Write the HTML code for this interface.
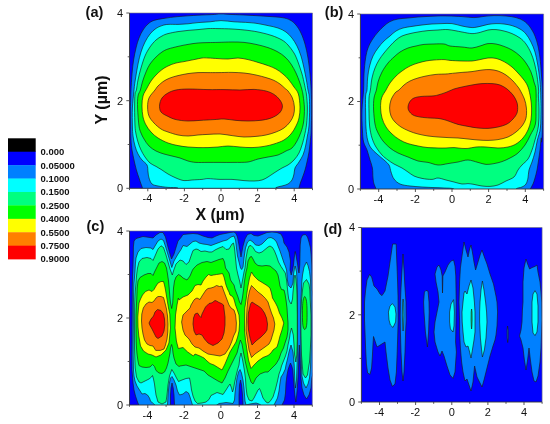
<!DOCTYPE html>
<html><head><meta charset="utf-8"><title>Figure</title>
<style>
html,body{margin:0;padding:0;background:#fff;}
body{width:550px;height:424px;overflow:hidden;}
svg{display:block;}
text{font-family:"Liberation Sans",Arial,sans-serif;fill:#111;}
.tk{font-size:11px;}
.pl{font-size:14.5px;font-weight:bold;}
.ax{font-size:16px;font-weight:bold;}
.lg{font-size:9.5px;font-weight:bold;}
</style></head><body>
<svg width="550" height="424" viewBox="0 0 550 424">
<defs>
<clipPath id="cpa"><rect x="129.5" y="13.0" width="183.0" height="175.3"/></clipPath>
<clipPath id="cpb"><rect x="360.4" y="14.0" width="183.2" height="175.0"/></clipPath>
<clipPath id="cpc"><rect x="129.5" y="231.0" width="182.8" height="174.0"/></clipPath>
<clipPath id="cpd"><rect x="361.4" y="227.5" width="180.7" height="174.5"/></clipPath>
</defs>
<rect x="129.5" y="13.0" width="183.0" height="175.3" fill="#0000ff"/>
<g clip-path="url(#cpa)" stroke="#1a1a1a" stroke-width="0.65" stroke-linejoin="round">
<path d="M131.0,90.0 C131.2,86.3 131.6,79.0 132.0,74.0 C132.4,69.0 132.9,64.3 133.6,60.0 C134.3,55.7 135.1,51.7 136.0,48.0 C136.9,44.3 137.8,41.0 139.0,38.0 C140.2,35.0 141.5,32.3 143.0,30.0 C144.5,27.7 146.2,25.6 148.0,24.0 C149.8,22.4 151.3,21.3 154.0,20.4 C156.7,19.5 160.0,19.0 164.0,18.4 C168.0,17.8 172.3,17.1 178.0,16.6 C183.7,16.1 192.3,15.5 198.0,15.2 C203.7,14.9 208.2,14.8 212.0,14.6 C215.8,14.4 217.7,13.9 221.0,13.9 C224.3,13.9 227.5,14.3 232.0,14.5 C236.5,14.7 242.0,14.9 248.0,15.2 C254.0,15.5 262.3,16.0 268.0,16.4 C273.7,16.8 278.3,17.0 282.0,17.6 C285.7,18.2 287.7,18.8 290.0,20.0 C292.3,21.2 294.2,22.8 296.0,25.0 C297.8,27.2 299.5,29.8 301.0,33.0 C302.5,36.2 303.8,39.8 305.0,44.0 C306.2,48.2 307.2,53.0 308.0,58.0 C308.8,63.0 309.5,68.7 310.0,74.0 C310.5,79.3 310.9,84.0 311.2,90.0 C311.5,96.0 311.6,103.3 311.6,110.0 C311.6,116.7 311.4,125.0 311.2,130.0 C311.0,135.0 310.8,136.3 310.4,140.0 C310.0,143.7 309.6,148.3 309.0,152.0 C308.4,155.7 307.7,159.0 307.0,162.0 C306.3,165.0 305.7,167.7 305.0,170.0 C304.3,172.3 303.8,173.8 303.0,176.0 C302.2,178.2 301.1,181.0 300.4,183.0 C299.7,185.0 299.4,186.2 299.0,188.0 C298.6,189.8 324.0,193.0 298.0,194.0 C272.0,195.0 168.9,195.0 143.0,194.0 C117.1,193.0 142.7,189.7 142.4,188.0 C142.1,186.3 141.6,185.7 141.0,184.0 C140.4,182.3 139.8,180.3 139.0,178.0 C138.2,175.7 137.2,173.0 136.4,170.0 C135.6,167.0 134.7,163.3 134.0,160.0 C133.3,156.7 132.5,153.3 132.0,150.0 C131.5,146.7 131.2,144.0 131.0,140.0 C130.8,136.0 130.7,131.0 130.6,126.0 C130.5,121.0 130.4,115.0 130.4,110.0 C130.4,105.0 130.7,99.3 130.8,96.0 C130.9,92.7 130.8,93.7 131.0,90.0Z" fill="#0080ff"/>
<path d="M134.0,90.0 C134.5,85.0 134.9,82.3 135.6,78.0 C136.3,73.7 137.1,68.3 138.0,64.0 C138.9,59.7 139.8,55.7 141.0,52.0 C142.2,48.3 143.5,45.0 145.0,42.0 C146.5,39.0 148.2,36.3 150.0,34.0 C151.8,31.7 154.0,29.8 156.0,28.4 C158.0,27.0 160.0,26.3 162.0,25.6 C164.0,24.9 165.3,24.6 168.0,24.4 C170.7,24.2 174.7,24.5 178.0,24.4 C181.3,24.3 184.7,24.1 188.0,23.8 C191.3,23.5 194.3,22.9 198.0,22.6 C201.7,22.3 206.2,22.1 210.0,21.8 C213.8,21.5 217.0,20.6 221.0,20.6 C225.0,20.6 229.3,21.5 234.0,21.8 C238.7,22.1 245.0,22.3 249.0,22.6 C253.0,22.9 254.8,23.1 258.0,23.6 C261.2,24.1 264.7,24.9 268.0,25.6 C271.3,26.3 275.0,26.9 278.0,28.0 C281.0,29.1 283.7,30.3 286.0,32.0 C288.3,33.7 290.2,35.7 292.0,38.0 C293.8,40.3 295.5,43.0 297.0,46.0 C298.5,49.0 299.8,52.3 301.0,56.0 C302.2,59.7 303.1,64.0 304.0,68.0 C304.9,72.0 305.7,76.3 306.4,80.0 C307.1,83.7 307.5,87.3 308.0,90.0 C308.5,92.7 308.9,93.0 309.2,96.0 C309.5,99.0 309.6,103.0 309.6,108.0 C309.6,113.0 309.4,121.3 309.0,126.0 C308.6,130.7 308.0,132.7 307.4,136.0 C306.8,139.3 306.3,142.8 305.6,146.0 C304.9,149.2 304.1,152.3 303.0,155.0 C301.9,157.7 300.3,159.8 299.0,162.0 C297.7,164.2 295.8,166.0 295.0,168.0 C294.2,170.0 294.5,172.0 294.0,174.0 C293.5,176.0 293.0,178.3 292.0,180.0 C291.0,181.7 289.7,183.0 288.0,184.0 C286.3,185.0 284.0,185.4 282.0,186.0 C280.0,186.6 277.7,186.6 276.0,187.6 C274.3,188.6 288.0,191.3 272.0,192.0 C256.0,192.7 195.7,192.7 180.0,192.0 C164.3,191.3 180.0,188.8 178.0,188.0 C176.0,187.2 171.3,187.7 168.0,187.4 C164.7,187.1 160.7,186.6 158.0,186.0 C155.3,185.4 153.5,185.3 152.0,184.0 C150.5,182.7 149.7,180.0 149.0,178.0 C148.3,176.0 148.3,174.2 148.0,172.0 C147.7,169.8 148.0,167.0 147.0,165.0 C146.0,163.0 143.5,161.8 142.0,160.0 C140.5,158.2 139.2,156.3 138.0,154.0 C136.8,151.7 135.8,149.0 135.0,146.0 C134.2,143.0 133.4,139.3 133.0,136.0 C132.6,132.7 132.5,130.7 132.4,126.0 C132.3,121.3 132.1,114.0 132.4,108.0 C132.7,102.0 133.5,95.0 134.0,90.0Z" fill="#00ffff"/>
<path d="M136.4,90.0 C136.9,87.7 137.2,83.7 138.0,80.0 C138.8,76.3 139.8,72.0 141.0,68.0 C142.2,64.0 143.5,59.5 145.0,56.0 C146.5,52.5 148.2,49.7 150.0,47.0 C151.8,44.3 154.0,41.8 156.0,40.0 C158.0,38.2 160.0,37.1 162.0,36.0 C164.0,34.9 165.3,34.3 168.0,33.6 C170.7,32.9 174.7,32.1 178.0,31.6 C181.3,31.1 184.7,30.7 188.0,30.4 C191.3,30.1 194.7,29.9 198.0,29.6 C201.3,29.3 204.7,28.8 208.0,28.6 C211.3,28.4 214.0,28.5 218.0,28.6 C222.0,28.7 227.0,28.7 232.0,29.0 C237.0,29.3 243.3,29.8 248.0,30.4 C252.7,31.0 256.0,31.5 260.0,32.4 C264.0,33.3 268.3,34.3 272.0,35.6 C275.7,36.9 279.3,38.4 282.0,40.0 C284.7,41.6 286.0,42.8 288.0,45.0 C290.0,47.2 292.3,50.2 294.0,53.0 C295.7,55.8 296.7,58.5 298.0,62.0 C299.3,65.5 300.9,70.3 302.0,74.0 C303.1,77.7 303.8,81.3 304.4,84.0 C305.0,86.7 305.3,88.3 305.6,90.0 C305.9,91.7 306.1,91.0 306.4,94.0 C306.7,97.0 307.4,103.0 307.4,108.0 C307.4,113.0 307.1,119.3 306.6,124.0 C306.1,128.7 305.2,132.5 304.4,136.0 C303.6,139.5 302.9,142.2 302.0,145.0 C301.1,147.8 300.3,150.5 299.0,153.0 C297.7,155.5 295.8,158.0 294.0,160.0 C292.2,162.0 290.0,163.7 288.0,165.0 C286.0,166.3 284.3,166.7 282.0,168.0 C279.7,169.3 276.3,171.5 274.0,173.0 C271.7,174.5 270.0,175.8 268.0,177.0 C266.0,178.2 264.3,179.3 262.0,180.0 C259.7,180.7 257.0,180.9 254.0,181.0 C251.0,181.1 247.7,180.9 244.0,180.6 C240.3,180.3 236.0,179.6 232.0,179.4 C228.0,179.2 224.0,179.5 220.0,179.4 C216.0,179.3 211.0,178.6 208.0,178.6 C205.0,178.6 204.7,179.2 202.0,179.4 C199.3,179.6 195.0,179.8 192.0,180.0 C189.0,180.2 186.7,180.9 184.0,180.6 C181.3,180.3 178.7,179.1 176.0,178.0 C173.3,176.9 170.3,175.3 168.0,174.0 C165.7,172.7 164.0,171.3 162.0,170.0 C160.0,168.7 158.0,167.6 156.0,166.4 C154.0,165.2 151.8,164.6 150.0,163.0 C148.2,161.4 146.5,159.2 145.0,157.0 C143.5,154.8 142.2,152.5 141.0,150.0 C139.8,147.5 138.8,144.7 138.0,142.0 C137.2,139.3 136.5,136.7 136.0,134.0 C135.5,131.3 135.2,130.3 135.0,126.0 C134.8,121.7 134.6,113.3 134.6,108.0 C134.6,102.7 134.7,97.0 135.0,94.0 C135.3,91.0 135.9,92.3 136.4,90.0Z" fill="#00ff80"/>
<path d="M140.4,90.0 C141.1,87.7 141.5,85.0 142.4,82.0 C143.3,79.0 144.7,75.0 146.0,72.0 C147.3,69.0 148.3,66.5 150.0,64.0 C151.7,61.5 154.0,59.0 156.0,57.0 C158.0,55.0 160.0,53.3 162.0,52.0 C164.0,50.7 165.3,49.9 168.0,49.0 C170.7,48.1 174.7,47.2 178.0,46.4 C181.3,45.6 184.7,45.0 188.0,44.4 C191.3,43.8 194.7,43.3 198.0,43.0 C201.3,42.7 204.7,42.7 208.0,42.6 C211.3,42.5 214.0,42.5 218.0,42.4 C222.0,42.3 227.7,42.0 232.0,42.0 C236.3,42.0 240.0,42.0 244.0,42.4 C248.0,42.8 252.0,43.5 256.0,44.4 C260.0,45.3 264.3,46.3 268.0,47.6 C271.7,48.9 275.2,50.4 278.0,52.0 C280.8,53.6 282.8,55.0 285.0,57.0 C287.2,59.0 289.2,61.3 291.0,64.0 C292.8,66.7 294.6,70.0 296.0,73.0 C297.4,76.0 298.6,79.2 299.6,82.0 C300.6,84.8 301.4,87.7 302.0,90.0 C302.6,92.3 302.8,93.0 303.2,96.0 C303.6,99.0 304.3,103.7 304.4,108.0 C304.5,112.3 304.2,118.0 303.6,122.0 C303.0,126.0 302.1,128.8 301.0,132.0 C299.9,135.2 298.5,138.3 297.0,141.0 C295.5,143.7 293.8,146.3 292.0,148.0 C290.2,149.7 288.3,149.8 286.0,151.0 C283.7,152.2 281.0,154.0 278.0,155.0 C275.0,156.0 271.3,156.3 268.0,157.0 C264.7,157.7 261.3,158.2 258.0,159.0 C254.7,159.8 252.0,161.4 248.0,162.0 C244.0,162.6 238.7,162.3 234.0,162.4 C229.3,162.5 224.3,162.4 220.0,162.4 C215.7,162.4 212.0,162.4 208.0,162.4 C204.0,162.4 199.3,162.6 196.0,162.4 C192.7,162.2 190.7,161.7 188.0,161.0 C185.3,160.3 182.7,158.8 180.0,158.0 C177.3,157.2 174.7,156.7 172.0,156.0 C169.3,155.3 166.7,154.8 164.0,154.0 C161.3,153.2 158.5,152.3 156.0,151.0 C153.5,149.7 151.0,148.0 149.0,146.0 C147.0,144.0 145.3,141.2 144.0,139.0 C142.7,136.8 141.8,135.2 141.0,133.0 C140.2,130.8 139.6,130.2 139.0,126.0 C138.4,121.8 137.8,113.0 137.6,108.0 C137.4,103.0 137.5,99.0 138.0,96.0 C138.5,93.0 139.7,92.3 140.4,90.0Z" fill="#00ff00"/>
<path d="M147.0,88.0 C148.3,85.5 149.5,83.2 151.0,81.0 C152.5,78.8 154.2,76.9 156.0,75.0 C157.8,73.1 160.0,71.1 162.0,69.6 C164.0,68.1 165.7,67.1 168.0,66.0 C170.3,64.9 173.3,63.7 176.0,63.0 C178.7,62.3 181.0,62.2 184.0,61.6 C187.0,61.0 191.0,60.2 194.0,59.6 C197.0,59.0 199.7,58.3 202.0,58.0 C204.3,57.7 205.3,57.9 208.0,58.0 C210.7,58.1 214.7,58.4 218.0,58.6 C221.3,58.8 224.7,59.1 228.0,59.0 C231.3,58.9 234.7,57.9 238.0,58.0 C241.3,58.1 244.7,58.9 248.0,59.6 C251.3,60.3 254.7,61.4 258.0,62.4 C261.3,63.4 265.0,64.5 268.0,65.6 C271.0,66.7 273.5,67.6 276.0,69.0 C278.5,70.4 280.8,72.2 283.0,74.0 C285.2,75.8 287.2,77.8 289.0,80.0 C290.8,82.2 292.4,84.7 294.0,87.0 C295.6,89.3 297.4,90.7 298.4,94.0 C299.4,97.3 299.9,103.0 300.0,107.0 C300.1,111.0 299.7,114.8 299.0,118.0 C298.3,121.2 297.3,123.3 296.0,126.0 C294.7,128.7 293.0,131.7 291.0,134.0 C289.0,136.3 286.8,138.3 284.0,140.0 C281.2,141.7 277.3,142.9 274.0,144.0 C270.7,145.1 267.7,145.8 264.0,146.4 C260.3,147.0 256.0,147.5 252.0,147.6 C248.0,147.7 244.0,147.3 240.0,147.0 C236.0,146.7 231.7,146.0 228.0,146.0 C224.3,146.0 221.3,146.7 218.0,147.0 C214.7,147.3 211.3,147.5 208.0,147.6 C204.7,147.7 201.3,147.7 198.0,147.6 C194.7,147.5 191.3,147.3 188.0,147.0 C184.7,146.7 181.3,146.3 178.0,145.6 C174.7,144.9 171.3,144.3 168.0,143.0 C164.7,141.7 160.8,139.8 158.0,138.0 C155.2,136.2 153.0,134.2 151.0,132.0 C149.0,129.8 147.3,127.5 146.0,125.0 C144.7,122.5 143.7,120.2 143.0,117.0 C142.3,113.8 142.0,109.5 142.0,106.0 C142.0,102.5 142.2,99.0 143.0,96.0 C143.8,93.0 145.7,90.5 147.0,88.0Z" fill="#ffff00"/>
<path d="M155.0,90.0 C156.5,88.0 156.5,87.5 158.0,86.0 C159.5,84.5 162.0,82.3 164.0,81.0 C166.0,79.7 167.7,78.9 170.0,78.0 C172.3,77.1 175.0,76.3 178.0,75.6 C181.0,74.9 184.7,74.1 188.0,73.6 C191.3,73.1 194.7,72.8 198.0,72.6 C201.3,72.4 204.7,72.6 208.0,72.6 C211.3,72.6 214.0,72.6 218.0,72.6 C222.0,72.6 227.7,72.3 232.0,72.4 C236.3,72.5 240.0,72.6 244.0,73.0 C248.0,73.4 252.3,74.2 256.0,75.0 C259.7,75.8 263.0,76.7 266.0,77.6 C269.0,78.5 271.7,79.3 274.0,80.4 C276.3,81.5 278.2,82.7 280.0,84.0 C281.8,85.3 283.7,87.2 285.0,88.4 C286.3,89.6 286.8,89.4 288.0,91.0 C289.2,92.6 291.3,95.3 292.4,98.0 C293.5,100.7 294.2,104.2 294.4,107.0 C294.6,109.8 294.3,112.5 293.6,115.0 C292.9,117.5 291.6,119.8 290.0,122.0 C288.4,124.2 286.3,126.3 284.0,128.0 C281.7,129.7 279.0,130.8 276.0,132.0 C273.0,133.2 269.3,134.3 266.0,135.0 C262.7,135.7 259.7,136.1 256.0,136.4 C252.3,136.7 248.0,137.1 244.0,137.0 C240.0,136.9 236.0,136.1 232.0,135.6 C228.0,135.1 224.0,134.2 220.0,134.0 C216.0,133.8 211.7,134.2 208.0,134.4 C204.3,134.6 201.3,134.7 198.0,135.0 C194.7,135.3 191.3,136.0 188.0,136.0 C184.7,136.0 181.3,135.7 178.0,135.0 C174.7,134.3 170.8,133.0 168.0,132.0 C165.2,131.0 163.3,130.5 161.0,129.0 C158.7,127.5 156.0,125.2 154.0,123.0 C152.0,120.8 150.1,118.7 149.0,116.0 C147.9,113.3 147.6,110.0 147.6,107.0 C147.6,104.0 147.8,100.8 149.0,98.0 C150.2,95.2 153.5,92.0 155.0,90.0Z" fill="#ff8000"/>
<path d="M159.6,105.0 C159.8,102.7 160.6,100.0 162.0,98.0 C163.4,96.0 165.7,94.3 168.0,93.0 C170.3,91.7 172.7,90.7 176.0,90.0 C179.3,89.3 182.7,89.1 188.0,89.0 C193.3,88.9 202.0,89.5 208.0,89.6 C214.0,89.7 218.7,89.5 224.0,89.6 C229.3,89.7 235.0,90.0 240.0,90.0 C245.0,90.0 249.7,89.2 254.0,89.4 C258.3,89.6 262.7,90.2 266.0,91.0 C269.3,91.8 271.7,93.0 274.0,94.4 C276.3,95.8 278.2,97.7 279.6,99.6 C281.0,101.5 282.2,103.7 282.4,105.6 C282.6,107.5 281.9,109.4 281.0,111.0 C280.1,112.6 278.8,113.8 277.0,115.0 C275.2,116.2 272.8,117.5 270.0,118.4 C267.2,119.3 263.7,120.0 260.0,120.4 C256.3,120.8 252.0,121.0 248.0,121.0 C244.0,121.0 240.0,120.7 236.0,120.4 C232.0,120.1 227.7,119.1 224.0,119.0 C220.3,118.9 218.0,119.4 214.0,119.6 C210.0,119.8 204.3,120.2 200.0,120.4 C195.7,120.6 192.0,121.1 188.0,121.0 C184.0,120.9 179.3,120.4 176.0,119.6 C172.7,118.8 170.5,117.7 168.0,116.4 C165.5,115.1 162.4,113.9 161.0,112.0 C159.6,110.1 159.4,107.3 159.6,105.0Z" fill="#ff0000"/>
</g>
<path d="M129.5,13.0H312.5V188.3" fill="none" stroke="#777" stroke-width="0.6"/>
<path d="M129.5,13.0V188.3H312.5" fill="none" stroke="#333" stroke-width="0.9"/>
<path d="M129.5,188.3v1.8M147.8,188.3v3.0M166.1,188.3v1.8M184.4,188.3v3.0M202.7,188.3v1.8M221.0,188.3v3.0M239.3,188.3v1.8M257.6,188.3v3.0M275.9,188.3v1.8M294.2,188.3v3.0M312.5,188.3v1.8M129.5,188.3h-3.2M129.5,144.5h-1.8M129.5,100.7h-3.2M129.5,56.8h-1.8M129.5,13.0h-3.2" stroke="#444" stroke-width="0.9" fill="none"/>
<text x="147.5" y="202.4" class="tk" text-anchor="middle">-4</text>
<text x="184.1" y="202.4" class="tk" text-anchor="middle">-2</text>
<text x="221.0" y="202.4" class="tk" text-anchor="middle">0</text>
<text x="257.6" y="202.4" class="tk" text-anchor="middle">2</text>
<text x="294.2" y="202.4" class="tk" text-anchor="middle">4</text>
<text x="123.2" y="192.1" class="tk" text-anchor="end">0</text>
<text x="123.2" y="104.5" class="tk" text-anchor="end">2</text>
<text x="123.2" y="16.8" class="tk" text-anchor="end">4</text>
<rect x="360.4" y="14.0" width="183.2" height="175.0" fill="#0000ff"/>
<g clip-path="url(#cpb)" stroke="#1a1a1a" stroke-width="0.65" stroke-linejoin="round">
<path d="M363.6,90.0 C363.9,84.0 363.7,79.3 364.0,74.0 C364.3,68.7 364.9,62.3 365.6,58.0 C366.3,53.7 366.9,51.0 368.0,48.0 C369.1,45.0 370.3,42.7 372.0,40.0 C373.7,37.3 376.0,34.3 378.0,32.0 C380.0,29.7 382.0,27.7 384.0,26.0 C386.0,24.3 387.7,22.8 390.0,21.6 C392.3,20.4 395.0,19.6 398.0,19.0 C401.0,18.4 404.7,18.3 408.0,18.0 C411.3,17.7 414.7,17.3 418.0,17.0 C421.3,16.7 424.7,16.6 428.0,16.4 C431.3,16.2 434.7,16.1 438.0,16.0 C441.3,15.9 444.0,15.9 448.0,16.0 C452.0,16.1 457.7,16.3 462.0,16.6 C466.3,16.9 470.3,17.6 474.0,17.6 C477.7,17.6 480.7,16.7 484.0,16.4 C487.3,16.1 490.3,15.7 494.0,15.6 C497.7,15.5 502.3,15.7 506.0,16.0 C509.7,16.3 513.0,16.8 516.0,17.6 C519.0,18.4 521.7,19.4 524.0,21.0 C526.3,22.6 528.2,24.5 530.0,27.0 C531.8,29.5 533.7,32.8 535.0,36.0 C536.3,39.2 537.2,42.3 538.0,46.0 C538.8,49.7 539.4,53.3 540.0,58.0 C540.6,62.7 541.0,68.7 541.4,74.0 C541.8,79.3 542.2,84.0 542.4,90.0 C542.6,96.0 542.6,103.3 542.6,110.0 C542.6,116.7 542.6,124.7 542.4,130.0 C542.2,135.3 541.8,140.7 541.6,142.0 C541.4,143.3 541.5,136.7 541.2,138.0 C540.9,139.3 540.4,146.3 540.0,150.0 C539.6,153.7 539.1,156.7 538.6,160.0 C538.1,163.3 537.6,167.0 537.0,170.0 C536.4,173.0 535.7,175.7 535.0,178.0 C534.3,180.3 533.8,182.2 533.0,184.0 C532.2,185.8 531.1,187.2 530.4,189.0 C529.7,190.8 554.7,194.0 529.0,195.0 C503.3,196.0 401.9,196.0 376.4,195.0 C350.9,194.0 376.4,190.8 376.0,189.0 C375.6,187.2 374.5,185.8 374.0,184.0 C373.5,182.2 373.3,180.7 373.0,178.0 C372.7,175.3 372.9,171.0 372.4,168.0 C371.9,165.0 370.9,163.0 370.0,160.0 C369.1,157.0 368.1,153.0 367.0,150.0 C365.9,147.0 364.4,145.3 363.6,142.0 C362.8,138.7 362.7,135.3 362.4,130.0 C362.1,124.7 361.8,116.7 362.0,110.0 C362.2,103.3 363.3,96.0 363.6,90.0Z" fill="#0080ff"/>
<path d="M367.0,90.0 C367.3,87.0 367.2,82.0 367.6,78.0 C368.0,74.0 368.7,69.7 369.6,66.0 C370.5,62.3 371.6,59.0 373.0,56.0 C374.4,53.0 376.2,50.5 378.0,48.0 C379.8,45.5 382.0,43.0 384.0,41.0 C386.0,39.0 388.0,37.7 390.0,36.0 C392.0,34.3 393.8,32.3 396.0,31.0 C398.2,29.7 400.3,28.8 403.0,28.0 C405.7,27.2 408.8,26.9 412.0,26.4 C415.2,25.9 418.7,25.4 422.0,25.0 C425.3,24.6 428.7,24.2 432.0,24.0 C435.3,23.8 438.7,23.7 442.0,23.6 C445.3,23.5 448.7,23.2 452.0,23.6 C455.3,24.0 458.7,25.3 462.0,26.0 C465.3,26.7 469.0,27.5 472.0,27.6 C475.0,27.7 477.3,26.9 480.0,26.4 C482.7,25.9 485.3,24.9 488.0,24.4 C490.7,23.9 493.3,23.7 496.0,23.6 C498.7,23.5 501.3,23.7 504.0,24.0 C506.7,24.3 509.3,24.8 512.0,25.6 C514.7,26.4 517.7,27.6 520.0,29.0 C522.3,30.4 524.2,31.8 526.0,34.0 C527.8,36.2 529.5,39.0 531.0,42.0 C532.5,45.0 533.9,48.3 535.0,52.0 C536.1,55.7 536.8,59.7 537.6,64.0 C538.4,68.3 539.1,73.7 539.6,78.0 C540.1,82.3 540.4,86.7 540.6,90.0 C540.8,93.3 540.7,94.7 540.8,98.0 C540.9,101.3 541.1,105.0 541.0,110.0 C540.9,115.0 541.0,123.0 540.4,128.0 C539.8,133.0 538.3,136.0 537.4,140.0 C536.5,144.0 535.9,148.3 535.0,152.0 C534.1,155.7 533.0,159.0 532.0,162.0 C531.0,165.0 529.7,167.3 529.0,170.0 C528.3,172.7 528.5,175.7 528.0,178.0 C527.5,180.3 527.0,182.5 526.0,184.0 C525.0,185.5 523.7,186.2 522.0,187.0 C520.3,187.8 517.3,187.8 516.0,189.0 C514.7,190.2 524.0,193.2 514.0,194.0 C504.0,194.8 466.0,194.8 456.0,194.0 C446.0,193.2 456.0,190.0 454.0,189.0 C452.0,188.0 447.3,188.2 444.0,188.0 C440.7,187.8 437.7,187.8 434.0,187.6 C430.3,187.4 426.0,187.3 422.0,187.0 C418.0,186.7 413.7,186.5 410.0,186.0 C406.3,185.5 402.7,185.2 400.0,184.0 C397.3,182.8 395.5,181.0 394.0,179.0 C392.5,177.0 391.8,174.3 391.0,172.0 C390.2,169.7 390.2,167.0 389.0,165.0 C387.8,163.0 386.0,161.8 384.0,160.0 C382.0,158.2 379.2,156.0 377.0,154.0 C374.8,152.0 372.6,150.3 371.0,148.0 C369.4,145.7 368.4,143.3 367.6,140.0 C366.8,136.7 366.3,132.7 366.0,128.0 C365.7,123.3 365.7,117.3 365.6,112.0 C365.5,106.7 365.4,99.7 365.6,96.0 C365.8,92.3 366.7,93.0 367.0,90.0Z" fill="#00ffff"/>
<path d="M370.4,90.0 C370.9,86.7 371.2,81.7 372.0,78.0 C372.8,74.3 373.8,71.0 375.0,68.0 C376.2,65.0 377.5,62.5 379.0,60.0 C380.5,57.5 382.2,55.3 384.0,53.0 C385.8,50.7 388.0,48.2 390.0,46.0 C392.0,43.8 394.0,41.7 396.0,40.0 C398.0,38.3 399.7,37.1 402.0,36.0 C404.3,34.9 407.3,34.3 410.0,33.6 C412.7,32.9 415.0,32.5 418.0,32.0 C421.0,31.5 424.7,30.9 428.0,30.6 C431.3,30.3 434.7,30.2 438.0,30.0 C441.3,29.8 444.0,29.3 448.0,29.6 C452.0,29.9 458.0,31.3 462.0,32.0 C466.0,32.7 469.0,33.5 472.0,33.6 C475.0,33.7 477.3,33.0 480.0,32.4 C482.7,31.8 485.3,30.5 488.0,30.0 C490.7,29.5 493.3,29.4 496.0,29.6 C498.7,29.8 501.3,30.3 504.0,31.0 C506.7,31.7 509.3,32.4 512.0,33.6 C514.7,34.8 517.7,36.3 520.0,38.0 C522.3,39.7 524.2,41.5 526.0,44.0 C527.8,46.5 529.6,49.8 531.0,53.0 C532.4,56.2 533.4,59.2 534.4,63.0 C535.4,66.8 536.3,71.5 537.0,76.0 C537.7,80.5 538.4,86.7 538.6,90.0 C538.8,93.3 538.3,92.7 538.4,96.0 C538.5,99.3 539.0,105.0 539.0,110.0 C539.0,115.0 539.1,121.0 538.4,126.0 C537.7,131.0 536.1,136.0 535.0,140.0 C533.9,144.0 533.2,146.8 532.0,150.0 C530.8,153.2 529.7,156.5 528.0,159.0 C526.3,161.5 523.7,163.2 522.0,165.0 C520.3,166.8 519.3,168.0 518.0,170.0 C516.7,172.0 516.0,175.2 514.0,177.0 C512.0,178.8 508.7,179.7 506.0,181.0 C503.3,182.3 500.7,184.1 498.0,185.0 C495.3,185.9 492.7,186.2 490.0,186.4 C487.3,186.6 484.7,186.3 482.0,186.0 C479.3,185.7 476.3,184.8 474.0,184.4 C471.7,184.0 470.0,183.7 468.0,183.6 C466.0,183.5 464.3,184.3 462.0,184.0 C459.7,183.7 456.7,182.7 454.0,182.0 C451.3,181.3 448.7,180.7 446.0,180.0 C443.3,179.3 440.3,178.1 438.0,178.0 C435.7,177.9 434.7,179.3 432.0,179.4 C429.3,179.5 425.0,179.0 422.0,178.4 C419.0,177.8 416.3,177.1 414.0,176.0 C411.7,174.9 410.0,173.3 408.0,172.0 C406.0,170.7 404.3,169.3 402.0,168.0 C399.7,166.7 396.3,165.3 394.0,164.0 C391.7,162.7 390.0,161.5 388.0,160.0 C386.0,158.5 384.0,157.2 382.0,155.0 C380.0,152.8 377.7,149.8 376.0,147.0 C374.3,144.2 373.1,141.5 372.0,138.0 C370.9,134.5 370.1,130.3 369.6,126.0 C369.1,121.7 369.1,116.7 369.0,112.0 C368.9,107.3 368.8,101.7 369.0,98.0 C369.2,94.3 369.9,93.3 370.4,90.0Z" fill="#00ff80"/>
<path d="M376.4,90.0 C377.1,87.3 377.1,85.0 378.0,82.0 C378.9,79.0 380.3,75.2 382.0,72.0 C383.7,68.8 386.0,65.5 388.0,63.0 C390.0,60.5 392.0,58.8 394.0,57.0 C396.0,55.2 397.7,53.5 400.0,52.0 C402.3,50.5 405.3,49.0 408.0,48.0 C410.7,47.0 413.3,46.6 416.0,46.0 C418.7,45.4 421.0,44.7 424.0,44.4 C427.0,44.1 430.7,44.1 434.0,44.0 C437.3,43.9 441.3,43.7 444.0,44.0 C446.7,44.3 447.0,45.5 450.0,46.0 C453.0,46.5 458.3,46.7 462.0,47.0 C465.7,47.3 469.0,48.2 472.0,48.0 C475.0,47.8 477.3,46.7 480.0,46.0 C482.7,45.3 485.3,43.9 488.0,43.6 C490.7,43.3 493.3,43.5 496.0,44.0 C498.7,44.5 501.3,45.4 504.0,46.4 C506.7,47.4 509.3,48.4 512.0,50.0 C514.7,51.6 517.7,53.8 520.0,56.0 C522.3,58.2 524.2,60.3 526.0,63.0 C527.8,65.7 529.7,68.8 531.0,72.0 C532.3,75.2 533.2,79.0 534.0,82.0 C534.8,85.0 535.7,85.7 536.0,90.0 C536.3,94.3 536.1,102.3 536.0,108.0 C535.9,113.7 536.3,119.5 535.4,124.0 C534.5,128.5 532.1,131.5 530.4,135.0 C528.7,138.5 527.1,142.0 525.0,145.0 C522.9,148.0 520.5,150.8 518.0,153.0 C515.5,155.2 512.7,156.6 510.0,158.0 C507.3,159.4 504.7,160.7 502.0,161.6 C499.3,162.5 496.7,163.1 494.0,163.6 C491.3,164.1 488.7,164.6 486.0,164.4 C483.3,164.2 481.0,163.1 478.0,162.4 C475.0,161.7 471.3,160.1 468.0,160.0 C464.7,159.9 461.3,161.4 458.0,162.0 C454.7,162.6 451.3,163.1 448.0,163.6 C444.7,164.1 441.3,165.2 438.0,165.0 C434.7,164.8 431.3,163.1 428.0,162.4 C424.7,161.7 421.3,161.9 418.0,161.0 C414.7,160.1 411.3,158.3 408.0,157.0 C404.7,155.7 401.0,154.5 398.0,153.0 C395.0,151.5 392.5,150.0 390.0,148.0 C387.5,146.0 385.1,143.7 383.0,141.0 C380.9,138.3 378.9,134.8 377.6,132.0 C376.3,129.2 375.7,127.7 375.0,124.0 C374.3,120.3 373.8,114.3 373.6,110.0 C373.4,105.7 373.5,101.3 374.0,98.0 C374.5,94.7 375.7,92.7 376.4,90.0Z" fill="#00ff00"/>
<path d="M386.0,90.0 C387.4,87.5 388.3,85.3 390.0,83.0 C391.7,80.7 394.0,78.0 396.0,76.0 C398.0,74.0 399.7,72.7 402.0,71.0 C404.3,69.3 407.3,67.3 410.0,66.0 C412.7,64.7 415.3,63.8 418.0,63.0 C420.7,62.2 423.3,61.5 426.0,61.0 C428.7,60.5 431.0,60.2 434.0,60.0 C437.0,59.8 441.3,59.5 444.0,59.6 C446.7,59.7 447.0,60.2 450.0,60.4 C453.0,60.6 458.3,60.9 462.0,61.0 C465.7,61.1 469.0,61.2 472.0,61.0 C475.0,60.8 477.3,60.1 480.0,59.6 C482.7,59.1 485.3,58.2 488.0,58.0 C490.7,57.8 493.3,57.8 496.0,58.4 C498.7,59.0 501.3,60.2 504.0,61.6 C506.7,63.0 509.7,65.1 512.0,67.0 C514.3,68.9 516.0,70.8 518.0,73.0 C520.0,75.2 522.3,77.7 524.0,80.0 C525.7,82.3 526.9,84.0 528.0,87.0 C529.1,90.0 530.0,94.5 530.6,98.0 C531.2,101.5 531.5,104.3 531.6,108.0 C531.7,111.7 531.6,116.3 531.0,120.0 C530.4,123.7 529.3,127.0 528.0,130.0 C526.7,133.0 525.0,135.7 523.0,138.0 C521.0,140.3 518.5,142.5 516.0,144.0 C513.5,145.5 511.0,146.3 508.0,147.0 C505.0,147.7 501.7,148.0 498.0,148.0 C494.3,148.0 489.7,147.2 486.0,147.0 C482.3,146.8 479.0,146.8 476.0,147.0 C473.0,147.2 470.3,148.2 468.0,148.4 C465.7,148.6 464.3,148.5 462.0,148.4 C459.7,148.3 456.7,147.7 454.0,147.6 C451.3,147.5 448.7,147.9 446.0,148.0 C443.3,148.1 441.0,148.1 438.0,148.0 C435.0,147.9 431.3,147.9 428.0,147.6 C424.7,147.3 421.3,146.7 418.0,146.0 C414.7,145.3 411.0,144.6 408.0,143.6 C405.0,142.6 402.7,141.6 400.0,140.0 C397.3,138.4 394.3,136.2 392.0,134.0 C389.7,131.8 387.7,129.7 386.0,127.0 C384.3,124.3 382.9,121.2 382.0,118.0 C381.1,114.8 380.7,111.3 380.6,108.0 C380.5,104.7 380.7,101.0 381.6,98.0 C382.5,95.0 384.6,92.5 386.0,90.0Z" fill="#ffff00"/>
<path d="M399.0,90.0 C400.5,88.7 402.2,86.5 404.0,85.0 C405.8,83.5 407.7,82.2 410.0,81.0 C412.3,79.8 415.3,78.8 418.0,78.0 C420.7,77.2 423.0,76.6 426.0,76.0 C429.0,75.4 432.7,74.7 436.0,74.4 C439.3,74.1 443.7,74.1 446.0,74.0 C448.3,73.9 447.3,73.9 450.0,73.6 C452.7,73.3 458.3,72.7 462.0,72.4 C465.7,72.1 468.7,72.0 472.0,71.6 C475.3,71.2 479.0,70.3 482.0,70.0 C485.0,69.7 487.3,69.4 490.0,69.6 C492.7,69.8 495.3,70.1 498.0,71.0 C500.7,71.9 503.5,73.3 506.0,75.0 C508.5,76.7 511.0,79.0 513.0,81.0 C515.0,83.0 516.8,85.5 518.0,87.0 C519.2,88.5 518.9,88.0 520.0,90.0 C521.1,92.0 523.3,96.0 524.4,99.0 C525.5,102.0 526.1,104.8 526.4,108.0 C526.7,111.2 526.7,115.0 526.0,118.0 C525.3,121.0 523.7,123.7 522.0,126.0 C520.3,128.3 518.3,130.2 516.0,132.0 C513.7,133.8 511.0,135.7 508.0,137.0 C505.0,138.3 501.3,139.0 498.0,139.6 C494.7,140.2 491.3,140.3 488.0,140.4 C484.7,140.5 481.3,140.2 478.0,140.0 C474.7,139.8 471.3,139.3 468.0,139.0 C464.7,138.7 461.3,138.2 458.0,138.0 C454.7,137.8 451.3,137.8 448.0,137.6 C444.7,137.4 441.3,137.3 438.0,137.0 C434.7,136.7 431.3,136.5 428.0,136.0 C424.7,135.5 421.2,134.8 418.0,134.0 C414.8,133.2 411.8,132.2 409.0,131.0 C406.2,129.8 403.3,128.5 401.0,127.0 C398.7,125.5 396.7,123.8 395.0,122.0 C393.3,120.2 391.9,118.3 391.0,116.0 C390.1,113.7 389.6,110.7 389.6,108.0 C389.6,105.3 390.1,102.5 391.0,100.0 C391.9,97.5 393.7,94.7 395.0,93.0 C396.3,91.3 397.5,91.3 399.0,90.0Z" fill="#ff8000"/>
<path d="M408.0,107.0 C408.1,105.5 408.6,103.5 409.6,102.0 C410.6,100.5 411.9,98.9 414.0,98.0 C416.1,97.1 419.0,96.7 422.0,96.4 C425.0,96.1 429.3,96.2 432.0,96.0 C434.7,95.8 435.7,95.6 438.0,95.0 C440.3,94.4 443.3,93.4 446.0,92.4 C448.7,91.4 451.3,89.9 454.0,89.0 C456.7,88.1 459.0,87.7 462.0,87.0 C465.0,86.3 468.7,85.6 472.0,85.0 C475.3,84.4 478.7,83.8 482.0,83.6 C485.3,83.4 489.0,83.4 492.0,83.6 C495.0,83.8 497.5,84.1 500.0,85.0 C502.5,85.9 504.8,87.3 507.0,89.0 C509.2,90.7 511.4,93.0 513.0,95.0 C514.6,97.0 515.6,99.2 516.4,101.0 C517.2,102.8 517.5,104.0 517.6,106.0 C517.7,108.0 517.8,110.8 517.0,113.0 C516.2,115.2 514.7,117.2 513.0,119.0 C511.3,120.8 509.5,122.7 507.0,124.0 C504.5,125.3 501.2,126.3 498.0,127.0 C494.8,127.7 491.3,128.2 488.0,128.4 C484.7,128.6 481.3,128.3 478.0,128.0 C474.7,127.7 471.3,127.0 468.0,126.4 C464.7,125.8 461.0,125.2 458.0,124.4 C455.0,123.6 452.3,122.4 450.0,121.6 C447.7,120.8 446.0,120.1 444.0,119.6 C442.0,119.1 440.3,118.7 438.0,118.4 C435.7,118.1 433.0,118.2 430.0,118.0 C427.0,117.8 422.8,117.5 420.0,117.0 C417.2,116.5 414.8,116.0 413.0,115.0 C411.2,114.0 409.8,112.3 409.0,111.0 C408.2,109.7 407.9,108.5 408.0,107.0Z" fill="#ff0000"/>
</g>
<path d="M360.4,14.0H543.6V189.0" fill="none" stroke="#777" stroke-width="0.6"/>
<path d="M360.4,14.0V189.0H543.6" fill="none" stroke="#333" stroke-width="0.9"/>
<path d="M360.4,189.0v1.8M378.7,189.0v3.0M397.0,189.0v1.8M415.4,189.0v3.0M433.7,189.0v1.8M452.0,189.0v3.0M470.3,189.0v1.8M488.6,189.0v3.0M507.0,189.0v1.8M525.3,189.0v3.0M543.6,189.0v1.8M360.4,189.0h-3.2M360.4,145.2h-1.8M360.4,101.5h-3.2M360.4,57.8h-1.8M360.4,14.0h-3.2" stroke="#444" stroke-width="0.9" fill="none"/>
<text x="378.4" y="203.1" class="tk" text-anchor="middle">-4</text>
<text x="415.1" y="203.1" class="tk" text-anchor="middle">-2</text>
<text x="452.0" y="203.1" class="tk" text-anchor="middle">0</text>
<text x="488.6" y="203.1" class="tk" text-anchor="middle">2</text>
<text x="525.3" y="203.1" class="tk" text-anchor="middle">4</text>
<text x="354.1" y="192.8" class="tk" text-anchor="end">0</text>
<text x="354.1" y="105.3" class="tk" text-anchor="end">2</text>
<text x="354.1" y="17.8" class="tk" text-anchor="end">4</text>
<rect x="129.5" y="231.0" width="182.8" height="174.0" fill="#0000ff"/>
<g clip-path="url(#cpc)" stroke="#1a1a1a" stroke-width="0.65" stroke-linejoin="round">
<path d="M132.0,330.0 L132.2,305.0 L132.3,289.0 L132.5,277.0 L133.0,265.0 L133.3,255.0 L133.4,247.0 L134.0,241.0 L136.0,238.5 L143.0,236.5 L150.0,237.5 L153.0,238.0 L156.0,235.0 L160.0,232.5 L163.0,232.5 L165.5,237.0 L168.0,247.0 L170.0,254.0 L171.5,259.0 L174.0,254.0 L178.0,241.0 L181.0,237.5 L183.0,234.5 L188.0,234.0 L193.0,233.5 L198.0,234.0 L203.0,236.0 L208.0,237.5 L212.0,238.0 L216.0,236.0 L220.0,234.5 L225.0,233.5 L230.0,232.5 L234.0,232.0 L236.0,233.5 L237.5,237.0 L239.0,245.0 L240.3,253.0 L241.0,257.0 L241.7,253.0 L243.0,246.0 L245.0,239.0 L247.5,234.5 L251.0,233.5 L254.0,235.5 L258.0,236.0 L262.0,234.5 L267.0,232.5 L272.0,232.0 L277.0,232.5 L281.0,234.0 L283.0,238.0 L284.0,243.0 L287.0,247.0 L289.0,252.0 L290.0,258.0 L290.5,261.0 L290.0,270.0 L291.2,275.0 L292.5,270.0 L293.5,265.0 L294.2,258.0 L295.2,251.5 L296.0,255.0 L297.0,261.0 L297.7,265.0 L298.3,270.0 L299.0,273.0 L299.8,265.0 L300.0,255.0 L300.2,245.0 L301.0,238.0 L302.5,235.0 L305.5,234.5 L307.5,237.0 L309.0,242.0 L310.5,248.0 L311.2,255.0 L311.8,265.0 L312.2,290.0 L314.0,300.0 L314.0,370.0 L311.8,378.0 L311.0,388.0 L309.0,395.0 L306.5,399.0 L304.0,395.0 L302.0,388.0 L301.0,378.0 L300.5,368.0 L300.0,355.0 L299.3,345.0 L298.8,355.0 L298.5,368.0 L298.0,378.0 L297.3,388.0 L296.4,398.0 L295.8,402.0 L294.6,393.0 L293.4,378.0 L292.8,370.0 L291.8,366.0 L290.5,363.0 L289.3,366.0 L288.0,370.0 L287.0,375.0 L286.0,383.0 L285.5,393.0 L284.5,400.0 L282.5,404.0 L281.5,407.0 L243.0,407.0 L243.0,405.0 L242.5,395.0 L241.5,385.0 L240.5,380.0 L239.5,385.0 L239.0,395.0 L239.0,405.0 L239.0,407.0 L174.5,407.0 L174.5,405.0 L174.0,395.0 L173.2,388.0 L172.0,383.0 L171.0,388.0 L170.5,395.0 L170.5,405.0 L170.5,407.0 L139.0,407.0 L139.0,405.5 L137.5,402.0 L135.5,396.0 L134.0,390.0 L133.0,383.0 L132.5,376.0 L132.0,370.0 L131.8,355.0 L132.0,340.0Z" fill="#0080ff"/>
<path d="M133.4,305.0 L133.6,295.0 L134.0,283.0 L135.0,271.0 L135.4,264.0 L136.0,258.0 L138.0,252.0 L141.0,248.5 L146.0,247.5 L151.0,248.0 L153.0,249.5 L155.0,246.0 L158.0,241.0 L161.0,239.0 L163.5,240.5 L166.0,248.0 L169.0,258.0 L171.8,267.5 L174.0,261.0 L178.0,254.0 L181.0,249.5 L183.0,245.5 L187.0,246.5 L190.0,244.0 L193.0,241.5 L196.0,241.0 L199.0,243.0 L203.0,244.0 L207.0,244.5 L211.0,245.5 L215.0,244.0 L219.0,242.5 L223.0,241.0 L227.0,240.0 L231.0,237.0 L234.0,236.0 L235.5,240.0 L236.5,248.0 L237.5,256.0 L239.0,262.0 L240.5,268.0 L241.7,269.5 L243.0,267.0 L244.0,258.0 L245.5,248.0 L247.5,242.0 L250.0,240.0 L253.0,242.0 L255.5,245.0 L259.0,245.5 L262.0,244.0 L265.0,241.0 L268.0,238.0 L271.0,237.5 L274.0,239.0 L276.5,242.0 L278.0,246.0 L280.0,251.0 L282.0,257.0 L284.0,263.0 L285.3,266.0 L286.6,270.0 L287.4,280.0 L288.4,285.5 L291.0,288.0 L293.0,283.0 L293.5,275.0 L294.5,268.0 L295.2,266.0 L296.5,272.0 L297.0,280.0 L297.3,290.0 L297.5,310.0 L297.5,340.0 L297.2,360.0 L296.5,380.0 L295.5,388.0 L294.8,380.0 L294.2,365.0 L293.0,352.0 L291.0,345.0 L289.0,352.0 L287.5,359.0 L286.0,365.0 L285.3,369.0 L283.0,374.0 L281.0,377.0 L280.0,383.0 L279.0,391.0 L277.5,398.0 L275.0,403.0 L273.0,407.0 L264.0,407.0 L259.0,404.0 L256.0,403.0 L250.0,404.0 L246.0,405.0 L245.0,401.0 L244.5,395.0 L244.0,388.0 L243.0,380.0 L241.5,373.0 L240.0,369.5 L238.5,372.0 L237.0,378.0 L236.0,385.0 L235.0,393.0 L234.5,400.0 L233.0,403.5 L230.0,403.0 L226.0,402.5 L223.0,403.0 L219.0,403.5 L217.0,405.0 L214.0,406.5 L208.0,407.0 L202.0,407.0 L193.0,407.0 L192.5,405.0 L191.5,402.0 L190.0,397.0 L188.5,393.0 L186.0,391.5 L183.0,394.0 L179.5,395.0 L177.5,391.0 L176.0,385.0 L174.0,380.0 L172.0,376.5 L170.5,378.0 L169.0,385.0 L168.0,395.0 L167.5,405.0 L167.3,407.0 L156.0,407.0 L155.0,405.0 L152.5,403.0 L150.5,401.0 L149.5,398.0 L147.5,395.0 L145.0,393.5 L142.0,394.0 L139.5,390.0 L137.0,386.0 L135.0,381.0 L134.0,376.0 L133.5,370.0 L133.2,355.0 L133.2,345.0 L133.4,325.0Z" fill="#00ffff"/>
<path d="M306.5,262.0 L308.0,265.5 L309.5,271.5 L310.5,280.0 L311.0,300.0 L311.2,325.0 L311.0,350.0 L310.5,368.0 L309.5,378.0 L308.0,384.0 L306.0,388.0 L303.5,383.0 L302.0,376.0 L301.5,368.0 L301.0,350.0 L300.8,320.0 L301.0,300.0 L301.8,282.0 L302.5,275.0 L304.0,267.0Z" fill="#00ffff"/>
<path d="M134.6,305.0 L135.0,295.0 L135.8,285.0 L136.6,275.0 L137.5,268.0 L139.0,262.0 L142.0,258.5 L147.0,257.5 L151.0,258.5 L153.0,260.5 L155.0,256.0 L158.0,249.0 L161.0,245.8 L163.5,247.5 L166.0,255.0 L168.0,262.0 L170.0,269.0 L172.3,275.0 L173.8,270.0 L176.0,264.0 L180.0,260.0 L183.0,261.0 L186.0,264.5 L189.0,262.0 L191.0,256.0 L193.0,250.5 L196.0,249.0 L198.0,249.5 L201.0,251.5 L205.0,251.0 L209.0,252.0 L212.0,252.0 L215.0,250.0 L219.0,248.0 L223.0,246.5 L226.0,249.5 L229.0,249.0 L232.0,244.0 L233.5,243.0 L234.5,248.0 L235.5,258.0 L236.5,268.0 L238.0,275.0 L239.6,281.0 L241.0,288.0 L242.4,281.0 L244.0,272.0 L245.0,268.0 L246.0,258.0 L247.5,250.0 L249.0,246.0 L251.0,245.5 L253.0,247.5 L255.5,251.5 L259.0,253.0 L262.0,252.0 L265.0,249.5 L268.0,247.0 L270.0,246.0 L272.5,247.5 L274.5,251.0 L276.5,256.0 L278.5,262.0 L281.0,266.5 L283.0,269.5 L285.3,273.0 L286.6,280.0 L287.3,287.0 L288.0,294.0 L288.7,299.0 L289.8,302.0 L291.2,304.0 L292.5,299.0 L293.0,292.0 L293.8,285.0 L294.2,278.0 L295.0,275.0 L296.0,279.0 L296.6,286.0 L297.0,295.0 L297.3,315.0 L297.3,340.0 L296.8,355.0 L295.8,362.0 L294.6,355.0 L294.0,345.0 L293.3,335.0 L291.5,328.0 L290.2,333.0 L289.5,338.0 L288.0,345.0 L287.0,351.0 L285.5,356.0 L283.5,361.0 L281.5,366.0 L280.5,370.0 L279.0,374.0 L277.5,381.0 L275.5,389.0 L273.0,397.0 L270.0,401.5 L268.0,403.0 L266.0,402.0 L263.0,398.0 L261.0,392.0 L259.5,388.5 L258.0,390.0 L256.0,394.0 L254.0,398.0 L252.0,401.0 L249.0,400.0 L247.0,395.0 L246.0,387.0 L245.5,379.0 L244.5,371.0 L243.5,365.0 L242.4,359.0 L241.0,353.0 L239.8,358.0 L239.0,365.0 L237.5,370.0 L236.0,376.0 L234.5,383.0 L233.5,389.0 L232.5,392.0 L231.5,388.0 L230.0,384.0 L228.5,386.0 L226.0,390.0 L223.0,394.5 L220.0,393.5 L217.0,392.5 L214.0,394.0 L211.0,395.5 L209.0,399.5 L206.0,402.0 L202.0,403.0 L197.5,403.5 L195.0,401.0 L193.0,396.0 L191.5,390.0 L190.5,383.0 L189.5,378.0 L186.0,378.5 L182.0,380.0 L178.5,381.5 L176.5,378.0 L174.0,373.0 L171.8,369.5 L169.5,376.0 L168.0,385.0 L167.0,395.0 L166.0,402.0 L162.0,404.0 L158.0,402.0 L156.0,395.0 L155.0,388.0 L154.5,384.0 L153.5,379.0 L152.5,375.5 L151.5,377.0 L149.0,379.0 L145.0,381.0 L141.0,383.0 L139.0,382.0 L136.5,377.0 L135.2,368.0 L134.8,358.0 L134.5,348.0 L134.5,325.0Z" fill="#00ff80"/>
<path d="M306.5,279.5 L309.0,284.0 L309.8,290.0 L310.2,300.0 L311.0,315.0 L311.0,335.0 L310.3,350.0 L309.5,362.0 L308.5,368.0 L307.5,375.0 L305.5,378.0 L303.0,374.0 L302.5,368.0 L301.5,355.0 L301.0,335.0 L300.8,315.0 L301.5,300.0 L302.5,290.0 L303.5,283.0Z" fill="#00ff80"/>
<path d="M136.3,308.0 L136.8,298.0 L137.2,288.0 L138.0,281.0 L140.0,277.5 L144.0,275.0 L148.0,273.5 L151.0,273.5 L153.0,275.5 L154.5,272.0 L156.5,268.0 L159.0,263.0 L162.0,261.5 L164.5,263.0 L166.5,268.0 L167.5,274.0 L168.5,281.0 L169.2,288.0 L169.8,296.0 L170.5,303.0 L171.7,308.5 L172.7,303.0 L173.0,298.0 L173.5,288.0 L174.5,281.0 L176.0,277.0 L178.5,274.5 L181.0,276.0 L183.0,278.0 L187.0,280.0 L190.0,276.0 L192.5,270.0 L194.0,268.0 L197.0,265.0 L202.0,262.5 L207.0,261.5 L211.0,262.5 L215.0,261.0 L219.0,259.5 L223.0,258.5 L224.5,262.0 L225.5,268.0 L229.0,273.0 L230.5,280.0 L232.5,283.0 L234.0,285.0 L235.0,289.0 L236.5,293.0 L238.0,297.0 L239.5,302.0 L241.0,304.5 L242.4,298.0 L243.5,290.0 L244.5,281.0 L246.0,272.0 L247.0,268.0 L248.0,261.0 L250.0,257.0 L251.5,256.5 L253.0,259.0 L255.0,263.0 L258.0,265.5 L262.0,266.0 L266.0,265.5 L270.0,266.0 L273.0,268.5 L276.0,271.0 L278.0,275.0 L279.0,280.0 L280.0,286.0 L281.5,289.5 L284.0,290.0 L285.0,294.0 L286.0,300.0 L287.0,308.0 L287.5,316.0 L288.0,323.0 L288.0,330.0 L287.0,337.0 L285.0,343.0 L283.5,348.0 L281.0,353.0 L279.0,359.0 L276.0,364.0 L272.0,368.0 L268.0,372.0 L265.0,372.0 L260.0,374.0 L256.0,378.0 L253.0,384.0 L251.0,382.0 L248.0,373.0 L245.6,363.0 L243.6,353.0 L242.0,344.0 L240.4,340.0 L239.0,345.0 L237.0,353.0 L234.0,359.0 L231.0,365.0 L228.0,371.0 L225.0,378.0 L222.0,383.0 L218.0,381.0 L213.0,378.0 L208.0,375.0 L204.0,371.0 L198.0,369.0 L192.0,367.0 L186.0,365.0 L180.0,366.0 L179.0,366.5 L176.0,364.0 L174.0,358.0 L173.0,353.0 L172.5,348.0 L171.6,344.5 L170.5,348.0 L170.0,353.0 L169.0,358.0 L168.0,363.0 L166.5,368.0 L164.5,372.0 L162.0,373.5 L159.0,373.0 L156.0,370.5 L154.5,366.5 L152.5,364.5 L150.0,367.0 L146.0,367.5 L142.0,367.0 L139.0,365.5 L138.0,361.0 L137.0,354.0 L136.5,348.0 L136.2,341.0 L136.0,329.0 L136.0,315.0Z" fill="#00ff00"/>
<path d="M304.7,296.5 C305.2,296.5 305.9,298.1 306.3,300.0 C306.7,301.9 306.9,304.7 307.0,308.0 C307.1,311.3 307.1,316.8 307.0,320.0 C306.9,323.2 306.7,325.4 306.3,327.0 C305.9,328.6 305.2,329.5 304.7,329.5 C304.2,329.5 303.6,328.6 303.2,327.0 C302.8,325.4 302.6,323.2 302.5,320.0 C302.4,316.8 302.4,311.3 302.5,308.0 C302.6,304.7 302.8,301.9 303.2,300.0 C303.6,298.1 304.2,296.5 304.7,296.5Z" fill="#00ff00"/>
<path d="M138.5,308.0 L139.0,303.0 L140.5,299.0 L142.5,295.0 L145.5,291.5 L149.0,290.0 L152.0,291.5 L154.0,289.5 L156.0,286.0 L158.0,283.0 L161.0,281.5 L163.5,281.5 L164.5,285.0 L165.5,290.0 L166.5,296.0 L167.5,302.0 L168.5,308.0 L169.8,314.0 L170.4,328.0 L169.5,338.0 L168.9,343.0 L166.0,350.0 L161.0,355.0 L156.0,357.0 L152.0,355.0 L148.0,354.0 L143.5,351.0 L140.5,346.0 L138.8,336.0 L138.0,327.0 L137.8,317.0Z" fill="#ffff00"/>
<path d="M177.0,305.0 L178.3,298.0 L179.0,300.0 L183.0,297.0 L188.0,295.0 L192.0,291.0 L195.0,285.5 L198.0,284.5 L201.0,285.0 L203.0,281.0 L206.0,277.0 L208.5,274.5 L211.0,275.5 L213.5,275.0 L216.5,274.5 L220.0,274.0 L222.5,273.5 L224.0,277.0 L225.0,281.0 L226.0,285.0 L227.5,289.0 L229.0,292.0 L230.0,295.0 L232.0,296.0 L233.5,298.0 L234.5,301.0 L235.5,305.0 L237.0,309.0 L239.0,315.0 L239.6,323.0 L239.0,331.0 L237.6,337.0 L236.0,342.0 L233.0,347.0 L230.0,352.0 L227.5,358.0 L225.0,364.0 L222.0,370.0 L218.0,367.5 L214.0,365.0 L210.0,363.5 L207.0,361.0 L204.0,358.0 L200.0,356.0 L195.0,354.0 L193.4,356.0 L187.7,352.0 L183.0,347.5 L178.3,348.5 L176.4,341.0 L175.0,328.0 L175.5,315.0Z" fill="#ffff00"/>
<path d="M244.8,308.0 L245.8,302.0 L246.8,294.0 L248.0,286.0 L249.5,278.0 L251.5,272.0 L254.0,276.0 L258.0,280.0 L263.0,283.0 L267.0,285.5 L270.0,288.0 L271.5,293.0 L272.5,298.0 L275.5,303.0 L277.5,307.0 L279.5,313.0 L282.0,318.0 L283.8,323.0 L282.0,330.0 L280.0,336.0 L278.5,342.0 L277.0,347.0 L273.0,350.0 L271.0,353.0 L268.0,355.5 L263.0,357.5 L258.0,361.0 L254.0,365.0 L251.0,368.5 L248.5,360.0 L247.0,350.0 L245.5,340.0 L244.5,330.0Z" fill="#ffff00"/>
<path d="M141.5,321.0 L141.8,314.0 L143.3,308.0 L146.0,304.0 L149.0,302.0 L152.0,302.5 L154.0,301.0 L156.0,298.0 L158.0,296.5 L161.0,296.5 L163.5,297.5 L164.5,301.0 L165.5,305.0 L166.5,309.0 L167.5,316.0 L168.0,324.0 L167.8,332.0 L167.0,339.0 L165.5,345.0 L164.0,349.0 L160.4,350.4 L155.7,350.4 L153.0,346.0 L150.0,345.5 L147.0,344.0 L144.5,340.0 L143.0,334.0 L142.0,328.0Z" fill="#ff8000"/>
<path d="M181.6,322.0 L183.0,315.0 L186.0,312.0 L190.0,308.0 L191.0,305.0 L194.0,300.0 L195.0,299.0 L197.0,298.0 L200.0,299.5 L202.0,296.0 L204.0,293.0 L206.0,290.0 L208.0,288.5 L211.0,288.0 L214.0,287.0 L216.5,285.5 L219.5,286.5 L222.0,286.0 L223.0,289.0 L224.5,293.0 L226.0,297.0 L227.5,301.0 L229.0,305.0 L231.0,308.0 L234.0,310.0 L235.6,315.0 L236.4,323.0 L236.0,331.0 L233.6,336.0 L231.6,342.0 L229.0,348.0 L225.0,354.0 L220.0,356.0 L214.0,355.0 L208.0,354.0 L203.0,351.0 L199.0,348.0 L195.0,347.0 L192.0,344.0 L189.0,339.0 L185.0,335.0 L183.0,330.0Z" fill="#ff8000"/>
<path d="M247.0,308.0 L248.0,298.0 L249.5,291.0 L251.5,285.5 L254.0,288.0 L258.0,292.0 L262.0,295.0 L265.5,298.5 L268.0,302.0 L269.5,307.0 L271.5,313.0 L273.5,318.0 L274.8,324.0 L274.0,330.0 L272.5,335.0 L271.0,340.0 L269.0,344.0 L265.0,347.0 L260.0,350.5 L255.0,354.0 L251.5,357.5 L249.0,350.0 L247.5,340.0 L246.0,330.0Z" fill="#ff8000"/>
<path d="M149.0,323.0 L151.0,319.0 L153.5,316.0 L155.0,312.0 L157.5,309.5 L161.0,310.5 L163.5,314.0 L164.5,319.0 L164.8,325.0 L164.0,331.0 L162.0,336.0 L158.0,338.5 L156.0,337.0 L154.0,333.0 L152.0,329.0 L150.0,325.5Z" fill="#ff0000"/>
<path d="M193.0,324.0 L193.5,318.0 L195.0,314.0 L197.5,313.0 L199.5,316.0 L201.0,317.5 L202.0,314.0 L204.0,310.0 L205.5,307.0 L207.5,305.0 L209.0,303.5 L212.0,302.8 L215.0,300.5 L216.5,301.0 L219.0,302.5 L221.5,303.5 L223.5,305.0 L224.0,309.0 L225.0,317.0 L225.0,325.0 L224.0,333.0 L222.0,339.0 L218.0,343.0 L213.0,345.5 L208.0,343.0 L204.5,339.0 L202.0,335.0 L199.0,334.0 L196.0,335.0 L194.0,331.0Z" fill="#ff0000"/>
<path d="M249.8,307.0 L250.5,304.0 L252.0,302.0 L255.0,304.0 L259.0,306.5 L261.5,308.5 L264.5,313.0 L266.5,318.0 L267.5,324.0 L267.0,330.0 L265.0,333.0 L261.0,337.0 L256.0,341.0 L252.0,345.0 L250.0,338.0 L248.5,330.0 L248.0,322.0 L248.4,313.0Z" fill="#ff0000"/>
</g>
<path d="M129.5,231.0H312.3V405.0" fill="none" stroke="#777" stroke-width="0.6"/>
<path d="M129.5,231.0V405.0H312.3" fill="none" stroke="#333" stroke-width="0.9"/>
<path d="M129.5,405.0v1.8M147.8,405.0v3.0M166.1,405.0v1.8M184.3,405.0v3.0M202.6,405.0v1.8M220.9,405.0v3.0M239.2,405.0v1.8M257.5,405.0v3.0M275.7,405.0v1.8M294.0,405.0v3.0M312.3,405.0v1.8M129.5,405.0h-3.2M129.5,361.5h-1.8M129.5,318.0h-3.2M129.5,274.5h-1.8M129.5,231.0h-3.2" stroke="#444" stroke-width="0.9" fill="none"/>
<text x="147.5" y="419.1" class="tk" text-anchor="middle">-4</text>
<text x="184.0" y="419.1" class="tk" text-anchor="middle">-2</text>
<text x="220.9" y="419.1" class="tk" text-anchor="middle">0</text>
<text x="257.5" y="419.1" class="tk" text-anchor="middle">2</text>
<text x="294.0" y="419.1" class="tk" text-anchor="middle">4</text>
<text x="123.2" y="408.8" class="tk" text-anchor="end">0</text>
<text x="123.2" y="321.8" class="tk" text-anchor="end">2</text>
<text x="123.2" y="234.8" class="tk" text-anchor="end">4</text>
<rect x="361.4" y="227.5" width="180.7" height="174.5" fill="#0000ff"/>
<g clip-path="url(#cpd)" stroke="#1a1a1a" stroke-width="0.65" stroke-linejoin="round">
<path d="M364.5,302.0 L365.6,290.0 L367.0,280.0 L369.6,274.4 L371.6,277.0 L374.0,286.0 L377.0,289.0 L380.0,294.0 L382.0,295.6 L385.0,291.0 L388.0,276.0 L390.3,260.0 L392.6,244.0 L396.2,244.0 L396.6,256.0 L397.0,266.0 L397.6,282.0 L398.0,296.0 L398.2,320.0 L397.6,340.0 L397.2,352.0 L396.4,372.0 L395.0,384.0 L392.4,386.4 L390.0,380.0 L388.0,368.0 L386.0,352.0 L385.0,342.0 L377.0,347.0 L373.5,336.5 L373.0,344.0 L372.4,356.0 L371.6,368.0 L370.0,374.4 L367.6,373.0 L366.4,364.0 L365.6,348.0 L365.0,332.0 L364.5,320.0Z" fill="#0080ff"/>
<path d="M388.4,312.0 L390.0,306.0 L392.4,303.6 L395.0,307.0 L396.0,314.0 L395.6,322.0 L393.0,327.5 L390.4,325.0 L389.0,320.0Z" fill="#00ffff"/>
<path d="M400.4,302.0 L401.0,288.0 L402.0,270.0 L403.0,254.0 L404.0,270.0 L405.0,288.0 L406.0,302.0 L406.2,320.0 L405.6,332.0 L405.0,352.0 L404.0,372.0 L403.0,381.0 L402.0,372.0 L401.0,352.0 L400.4,332.0 L400.2,316.0Z" fill="#0080ff"/>
<path d="M402.6,302.0 L403.1,299.0 L403.6,302.0 L403.8,315.0 L403.5,328.0 L403.1,331.0 L402.7,328.0 L402.4,315.0Z" fill="#00ffff"/>
<path d="M423.6,302.0 L424.4,292.0 L426.0,290.4 L428.0,291.0 L429.0,302.0 L429.2,312.0 L428.6,332.0 L427.4,347.0 L425.4,332.0 L424.0,312.0Z" fill="#0080ff"/>
<path d="M435.0,274.0 L437.0,267.0 L439.0,265.0 L441.0,270.0 L442.2,276.0 L442.5,293.0 L442.9,276.0 L445.0,272.0 L448.0,265.0 L451.0,261.0 L453.6,260.0 L455.0,266.0 L455.8,276.0 L456.0,290.0 L456.2,302.0 L456.0,322.0 L455.6,342.0 L456.4,352.0 L455.0,372.0 L453.0,378.4 L450.0,375.0 L447.0,366.0 L444.0,356.0 L442.0,351.0 L440.0,356.0 L438.0,352.0 L435.0,342.0 L434.0,332.0 L435.0,322.0 L437.0,312.0 L439.0,302.0 L438.0,292.0 L436.0,282.0Z" fill="#0080ff"/>
<path d="M449.6,312.0 L451.0,304.0 L453.6,299.6 L454.4,312.0 L454.0,326.0 L453.0,332.0 L450.4,329.0 L449.6,322.0Z" fill="#00ffff"/>
<path d="M459.0,302.0 L459.6,282.0 L460.4,268.0 L462.0,256.0 L464.0,242.0 L466.0,250.0 L468.0,257.0 L469.6,249.0 L471.0,245.0 L472.4,252.0 L474.0,262.0 L475.6,270.0 L478.0,262.0 L480.4,254.0 L482.0,250.0 L484.0,256.0 L487.0,264.0 L490.0,274.0 L493.5,284.0 L496.0,296.0 L497.0,302.0 L497.6,312.0 L497.0,326.0 L496.0,335.0 L495.0,340.0 L493.0,346.0 L490.0,356.0 L487.0,368.0 L484.0,380.0 L482.0,387.0 L480.0,383.0 L477.0,377.0 L474.6,366.0 L473.0,382.0 L471.0,391.0 L469.0,385.0 L467.0,379.0 L465.0,381.0 L463.0,372.0 L461.6,362.0 L460.4,348.0 L459.6,332.0 L459.6,322.0Z" fill="#0080ff"/>
<path d="M463.0,302.0 L464.0,293.0 L465.0,291.0 L467.0,294.0 L469.0,286.0 L471.0,280.0 L473.0,288.0 L474.4,302.0 L475.0,312.0 L475.0,332.0 L474.0,340.0 L472.4,350.0 L471.0,358.0 L469.6,352.0 L468.0,346.0 L466.0,347.0 L464.0,342.0 L463.0,332.0 L462.2,322.0 L462.0,312.0Z" fill="#00ffff"/>
<path d="M471.2,312.0 L471.6,309.0 L472.0,312.0 L472.1,320.0 L471.9,326.0 L471.6,329.0 L471.3,326.0 L471.1,320.0Z" fill="#00ff80"/>
<path d="M480.0,302.0 L481.0,290.0 L482.4,281.0 L484.0,290.0 L485.6,302.0 L486.6,312.0 L487.0,322.0 L486.0,338.0 L484.4,350.0 L482.4,357.0 L481.6,350.0 L480.4,338.0 L479.6,322.0 L479.6,312.0Z" fill="#00ffff"/>
<path d="M507.1,330.0 L507.6,326.0 L508.1,330.0 L508.2,338.0 L507.7,342.5 L507.2,338.0Z" fill="#0080ff"/>
<path d="M523.0,302.0 L523.0,282.0 L524.0,268.0 L526.0,259.0 L527.6,264.0 L529.6,269.0 L532.0,267.6 L535.0,266.4 L537.0,265.0 L538.0,272.0 L540.0,282.0 L541.0,292.0 L541.8,302.0 L542.0,320.0 L541.6,332.0 L541.0,348.0 L540.0,362.0 L538.0,376.0 L536.0,382.0 L534.0,381.0 L532.0,372.0 L530.4,360.0 L529.0,348.0 L527.6,360.0 L526.0,370.0 L524.4,360.0 L523.0,348.0 L521.0,340.0 L519.5,336.0 L521.0,330.0 L522.0,322.0 L522.4,310.0Z" fill="#0080ff"/>
<path d="M532.0,302.0 L533.0,294.0 L535.0,290.6 L537.0,294.0 L538.0,306.0 L538.0,322.0 L537.0,332.0 L535.0,335.6 L533.0,333.0 L532.0,322.0Z" fill="#00ffff"/>
</g>
<path d="M361.4,227.5H542.1V402.0" fill="none" stroke="#777" stroke-width="0.6"/>
<path d="M361.4,227.5V402.0H542.1" fill="none" stroke="#333" stroke-width="0.9"/>
<path d="M361.4,402.0v1.8M379.5,402.0v3.0M397.5,402.0v1.8M415.6,402.0v3.0M433.7,402.0v1.8M451.8,402.0v3.0M469.8,402.0v1.8M487.9,402.0v3.0M506.0,402.0v1.8M524.0,402.0v3.0M542.1,402.0v1.8M361.4,402.0h-3.2M361.4,358.4h-1.8M361.4,314.8h-3.2M361.4,271.1h-1.8M361.4,227.5h-3.2" stroke="#444" stroke-width="0.9" fill="none"/>
<text x="379.2" y="416.1" class="tk" text-anchor="middle">-4</text>
<text x="415.3" y="416.1" class="tk" text-anchor="middle">-2</text>
<text x="451.8" y="416.1" class="tk" text-anchor="middle">0</text>
<text x="487.9" y="416.1" class="tk" text-anchor="middle">2</text>
<text x="524.0" y="416.1" class="tk" text-anchor="middle">4</text>
<text x="355.1" y="405.8" class="tk" text-anchor="end">0</text>
<text x="355.1" y="318.6" class="tk" text-anchor="end">2</text>
<text x="355.1" y="231.3" class="tk" text-anchor="end">4</text>
<text x="85.6" y="17.3" class="pl">(a)</text>
<text x="324.8" y="17.3" class="pl">(b)</text>
<text x="86.5" y="231" class="pl">(c)</text>
<text x="323.6" y="233.5" class="pl">(d)</text>
<text x="220" y="220" class="ax" text-anchor="middle">X (µm)</text>
<text transform="translate(107.3,100) rotate(-90)" class="ax" text-anchor="middle">Y (µm)</text>
<rect x="8" y="138.30" width="27.7" height="13.72" fill="#000000"/>
<rect x="8" y="151.72" width="27.7" height="13.72" fill="#0000ff"/>
<rect x="8" y="165.14" width="27.7" height="13.72" fill="#0080ff"/>
<rect x="8" y="178.56" width="27.7" height="13.72" fill="#00ffff"/>
<rect x="8" y="191.98" width="27.7" height="13.72" fill="#00ff80"/>
<rect x="8" y="205.40" width="27.7" height="13.72" fill="#00ff00"/>
<rect x="8" y="218.82" width="27.7" height="13.72" fill="#ffff00"/>
<rect x="8" y="232.24" width="27.7" height="13.72" fill="#ff8000"/>
<rect x="8" y="245.66" width="27.7" height="13.72" fill="#ff0000"/>
<text x="40.5" y="155.12" class="lg">0.000</text>
<text x="40.5" y="168.54" class="lg">0.05000</text>
<text x="40.5" y="181.96" class="lg">0.1000</text>
<text x="40.5" y="195.38" class="lg">0.1500</text>
<text x="40.5" y="208.80" class="lg">0.2500</text>
<text x="40.5" y="222.22" class="lg">0.4000</text>
<text x="40.5" y="235.64" class="lg">0.5500</text>
<text x="40.5" y="249.06" class="lg">0.7500</text>
<text x="40.5" y="262.48" class="lg">0.9000</text>
</svg>
</body></html>
